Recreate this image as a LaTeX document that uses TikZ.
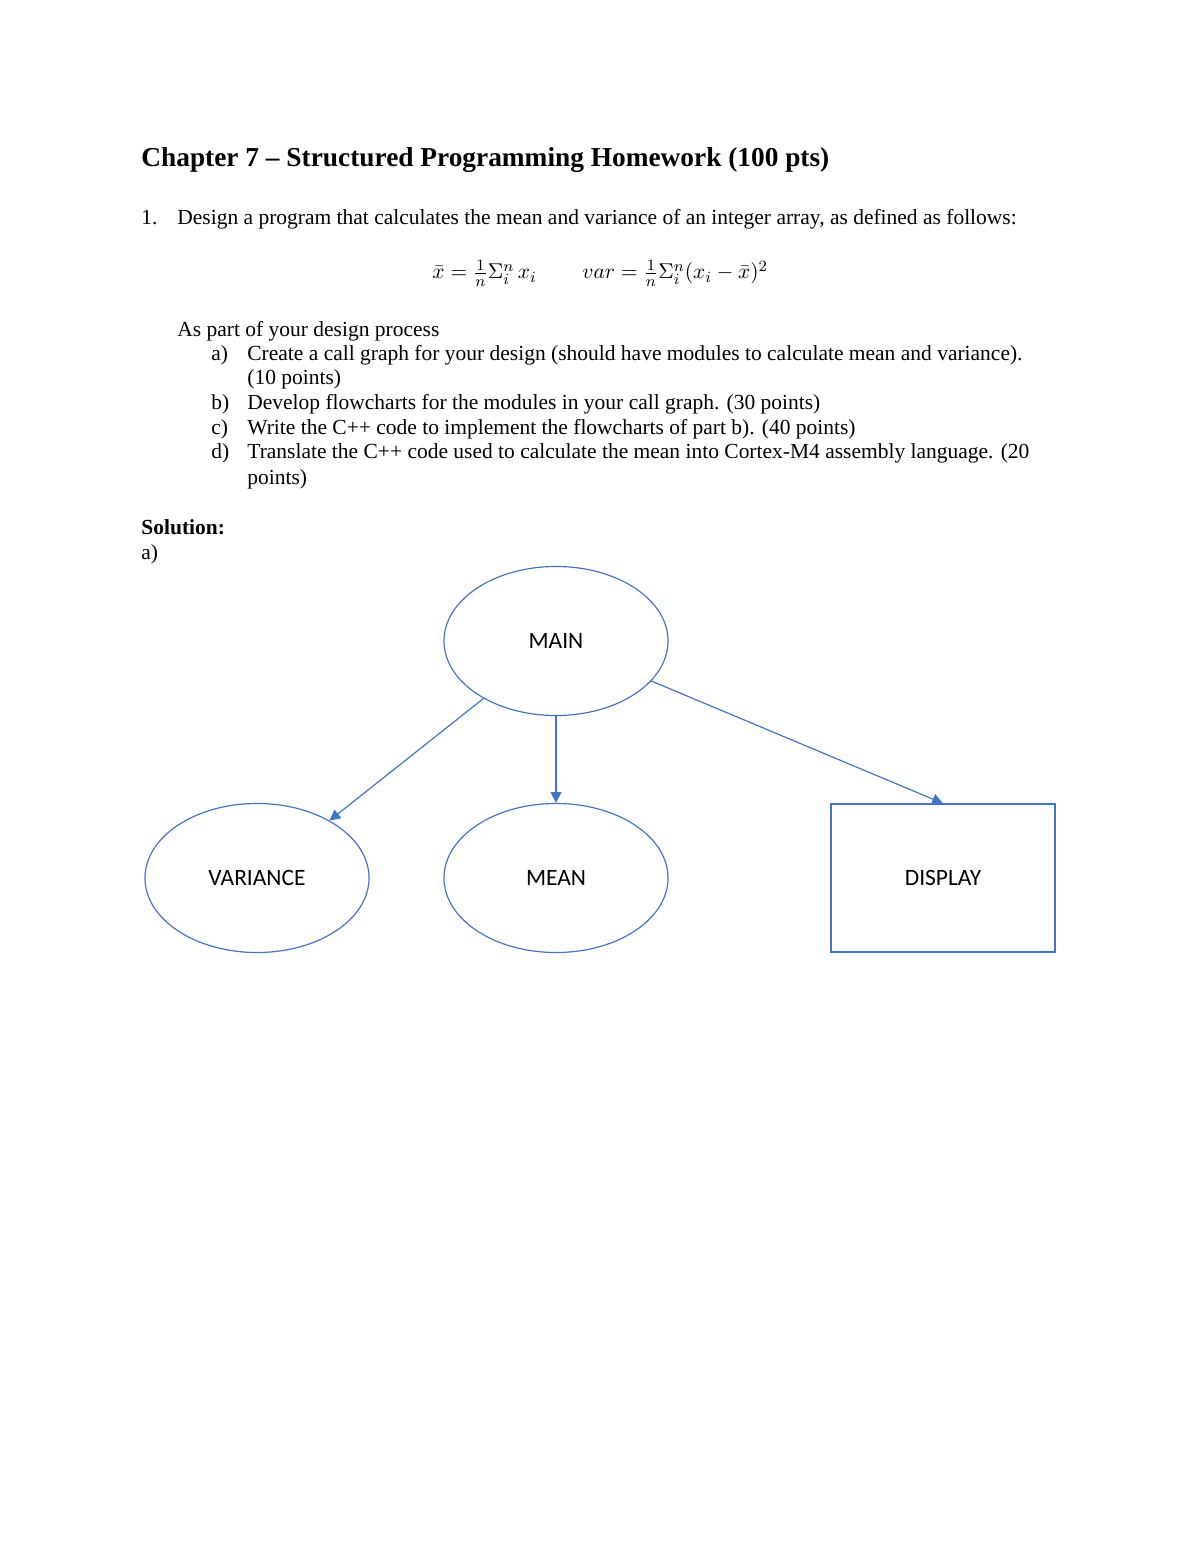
\documentclass[tikz,border=0pt]{standalone}
\usepackage{amsmath}
\usepackage{fontspec}
\setmainfont{Liberation Serif}
\newfontfamily\calibri{Carlito}
\usetikzlibrary{shapes.geometric,arrows.meta}
\definecolor{officeblue}{HTML}{4472C4}

\begin{document}
\begin{tikzpicture}[x=0.5119pt,y=-0.5119pt,
    txt/.style={anchor=base west,inner sep=0pt,font=\fontsize{11}{13}\selectfont},
    module/.style={ellipse,draw=officeblue,line width=0.6pt,minimum width=114.7pt,
      minimum height=76.3pt,inner sep=0pt,font=\calibri\fontsize{12}{14}\selectfont},
    outbox/.style={rectangle,draw=officeblue,line width=0.6pt,minimum width=114.7pt,
      minimum height=75.8pt,inner sep=0pt,font=\calibri\fontsize{12}{14}\selectfont},
    call/.style={->,draw=officeblue,line width=0.6pt},
    >={Triangle[length=5.5pt,width=5.5pt]}]
    \useasboundingbox[fill=white] (0,0) rectangle (1200,1553);
    % heading and question
    \node[txt,font=\bfseries\fontsize{14}{16}\selectfont] (title) at (141,167)
      {Chapter 7 -- Structured Programming Homework (100 pts)};
    \node[txt] (qnum) at (141,225) {1.};
    \node[txt] (q) at (177,225)
      {Design a program that calculates the mean and variance of an integer array, as defined as follows:};
    \node[txt] (meaneq) at (432,279) {$\bar{x}=\tfrac{1}{n}\Sigma_i^n\, x_i$};
    \node[txt] (vareq) at (582,279) {$var=\tfrac{1}{n}\Sigma_i^n(x_i-\bar{x})^2$};
    \node[txt] (intro) at (177,337) {As part of your design process};
    \node[txt] (la) at (211,361) {a)};
    \node[txt] (ta) at (247,361)
      {Create a call graph for your design (should have modules to calculate mean and variance).};
    \node[txt] (ta2) at (247,385) {(10 points)};
    \node[txt] (lb) at (211,410) {b)};
    \node[txt] (tb) at (247,410) {Develop flowcharts for the modules in your call graph. (30 points)};
    \node[txt] (lc) at (211,435) {c)};
    \node[txt] (tc) at (247,435) {Write the C++ code to implement the flowcharts of part b). (40 points)};
    \node[txt] (ld) at (211,459) {d)};
    \node[txt] (td) at (247,459)
      {Translate the C++ code used to calculate the mean into Cortex-M4 assembly language. (20};
    \node[txt] (td2) at (247,484) {points)};
    \node[txt,font=\bfseries\fontsize{11}{13}\selectfont] (sol) at (141,534) {Solution:};
    \node[txt] (sola) at (141,559) {a)};
    % call graph
    \node[module] (main) at (556,641) {MAIN};
    \node[module] (variance) at (257,878) {VARIANCE};
    \node[module] (mean) at (556,878) {MEAN};
    \node[outbox] (display) at (943,878) {DISPLAY};
    \draw[call] (main) -- (variance);
    \draw[call] (main) -- (mean);
    \draw[call] (main) -- (display.north);
\end{tikzpicture}
\end{document}
